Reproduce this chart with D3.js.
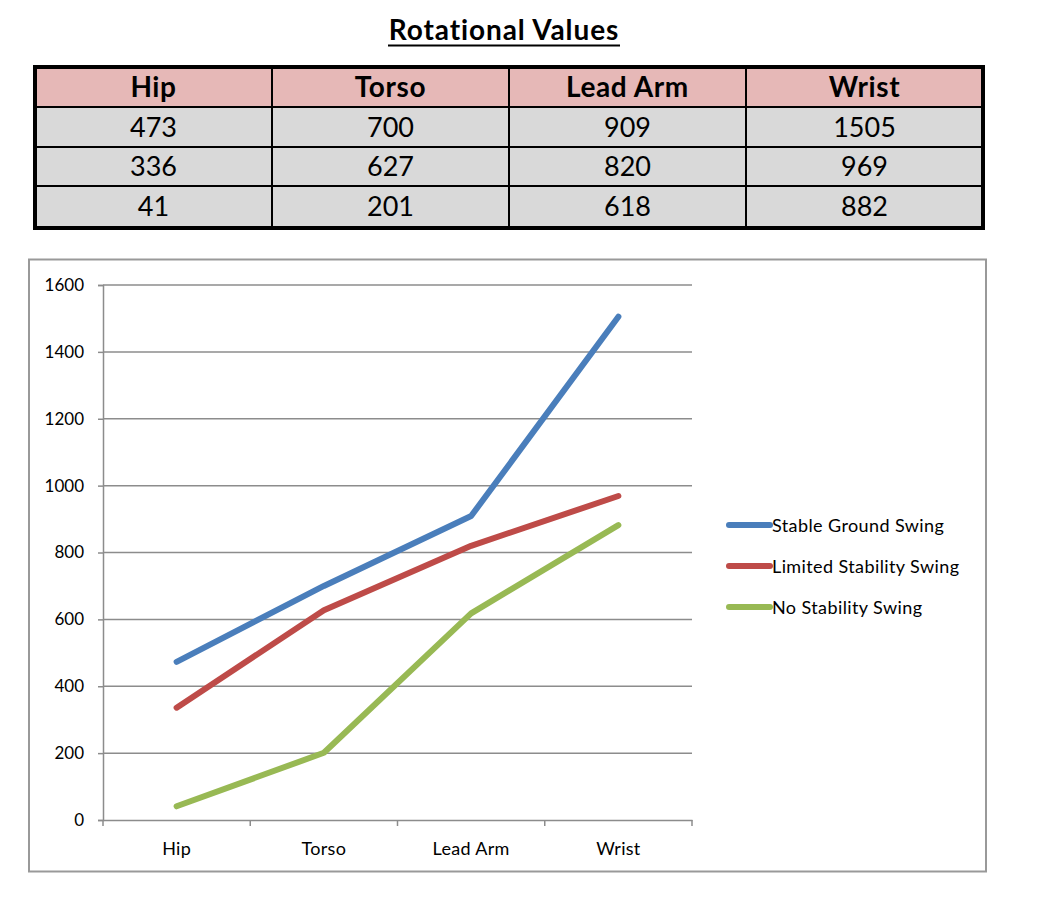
<!DOCTYPE html>
<html>
<head>
<meta charset="utf-8">
<script src="https://cdn.jsdelivr.net/npm/d3@7"></script>
<style>
  body { margin: 0; background: #fff; }
  svg { display: block; font-family: Lato, "Open Sans", sans-serif; }
</style>
</head>
<body>
<svg id="chart" width="1046" height="910"></svg>
<script>
// Data
const categories = ['Hip', 'Torso', 'Lead Arm', 'Wrist'];
const seriesNames = ['Stable Ground Swing', 'Limited Stability Swing', 'No Stability Swing'];
const stableGround = [473, 700, 909, 1505];
const limitedStability = [336, 627, 820, 969];
const noStability = [41, 201, 618, 882];
const yTicks = [0, 200, 400, 600, 800, 1000, 1200, 1400, 1600];

const seriesValues = [stableGround, limitedStability, noStability];
const colors = ['#4a7ebb', '#be4b48', '#98b954'];

const svg = d3.select('#chart');

// Title
const title = svg.append('text')
    .attr('x', 504)
    .attr('y', 40)
    .attr('text-anchor', 'middle')
    .attr('font-size', 28)
    .attr('font-weight', 'bold')
    .attr('letter-spacing', 0.9)
    .attr('fill', '#000')
    .text('Rotational Values');
const tb = title.node().getBBox();
svg.append('line')
    .attr('x1', 388).attr('x2', 620)
    .attr('y1', 45.5).attr('y2', 45.5)
    .attr('stroke', '#000').attr('stroke-width', 2);

// Table
const tableX = d3.scaleBand().domain(categories).range([35, 983]);
const rowEdges = [67, 107, 147, 186, 228];
const table = svg.append('g').attr('class', 'table');

const rows = [categories].concat(seriesValues.map(s => s.map(String)));
rows.forEach((row, r) => {
    row.forEach((cell, c) => {
        const x0 = tableX(categories[c]);
        table.append('rect')
            .attr('x', x0).attr('y', rowEdges[r])
            .attr('width', tableX.bandwidth()).attr('height', rowEdges[r + 1] - rowEdges[r])
            .attr('fill', r === 0 ? '#e6b8b7' : '#d9d9d9')
            .attr('stroke', '#000').attr('stroke-width', 2);
        table.append('text')
            .attr('x', x0 + tableX.bandwidth() / 2)
            .attr('y', rowEdges[r + 1] - (r === 3 ? 12 : 10))
            .attr('text-anchor', 'middle')
            .attr('font-size', r === 0 ? 28 : 27)
            .attr('letter-spacing', r === 0 ? 0.6 : 0)
            .attr('font-weight', r === 0 ? 'bold' : 'normal')
            .attr('fill', '#000')
            .text(cell);
    });
});
table.append('rect')
    .attr('x', 35).attr('y', 67)
    .attr('width', 948).attr('height', 161)
    .attr('fill', 'none')
    .attr('stroke', '#000').attr('stroke-width', 4);

// Chart frame
svg.append('rect')
    .attr('x', 29).attr('y', 259.5)
    .attr('width', 957).attr('height', 612)
    .attr('fill', '#fff')
    .attr('stroke', '#999').attr('stroke-width', 2);

const x = d3.scaleBand().domain(categories).range([103, 692]);
const y = d3.scaleLinear().domain([0, 1600]).range([820, 285]);

const plot = svg.append('g');

// Gridlines
plot.append('g')
    .selectAll('line')
    .data(yTicks.filter(d => d > 0))
    .join('line')
    .attr('x1', 103).attr('x2', 692)
    .attr('y1', d => y(d)).attr('y2', d => y(d))
    .attr('stroke', '#8c8c8c').attr('stroke-width', 1.5);

// Y axis
const yAxis = plot.append('g')
    .attr('transform', 'translate(103,0)')
    .call(d3.axisLeft(y).tickValues(yTicks).tickSize(5).tickPadding(14).tickFormat(d3.format('d')));
yAxis.select('.domain').attr('stroke', '#8c8c8c').attr('stroke-width', 1.5);
yAxis.selectAll('.tick line').attr('stroke', '#8c8c8c').attr('stroke-width', 1.5);
yAxis.selectAll('.tick text')
    .attr('font-size', 17).attr('font-family', 'Lato, sans-serif').attr('fill', '#000');

// X axis
const xAxis = plot.append('g')
    .attr('transform', 'translate(0,820)')
    .call(d3.axisBottom(x).tickSize(0).tickPadding(22));
xAxis.select('.domain').attr('stroke', '#8c8c8c').attr('stroke-width', 1.5);
xAxis.selectAll('.tick text')
    .attr('font-size', 18).attr('letter-spacing', 0.3)
    .attr('font-family', 'Lato, sans-serif').attr('fill', '#000');
xAxis.selectAll('line.sep')
    .data(d3.range(categories.length + 1))
    .join('line')
    .attr('class', 'sep')
    .attr('x1', i => 103 + i * x.step()).attr('x2', i => 103 + i * x.step())
    .attr('y1', 0).attr('y2', 6)
    .attr('stroke', '#8c8c8c').attr('stroke-width', 1.5);

// Lines
const line = d3.line()
    .x((d, i) => x(categories[i]) + x.bandwidth() / 2)
    .y(d => y(d));

plot.append('g')
    .selectAll('path')
    .data(seriesValues)
    .join('path')
    .attr('d', d => line(d))
    .attr('fill', 'none')
    .attr('stroke', (d, i) => colors[i])
    .attr('stroke-width', 6)
    .attr('stroke-linecap', 'round')
    .attr('stroke-linejoin', 'round');

// Legend
const legend = svg.append('g').attr('transform', 'translate(727,525)');
const items = legend.selectAll('g')
    .data(seriesNames)
    .join('g')
    .attr('transform', (d, i) => `translate(0,${i * 41})`);
items.append('line')
    .attr('x1', 2).attr('x2', 43)
    .attr('stroke', (d, i) => colors[i])
    .attr('stroke-width', 6)
    .attr('stroke-linecap', 'round');
items.append('text')
    .attr('x', 45)
    .attr('y', 7)
    .attr('font-size', 18)
    .attr('letter-spacing', 0.4)
    .attr('fill', '#000')
    .text(d => d);
</script>
</body>
</html>
